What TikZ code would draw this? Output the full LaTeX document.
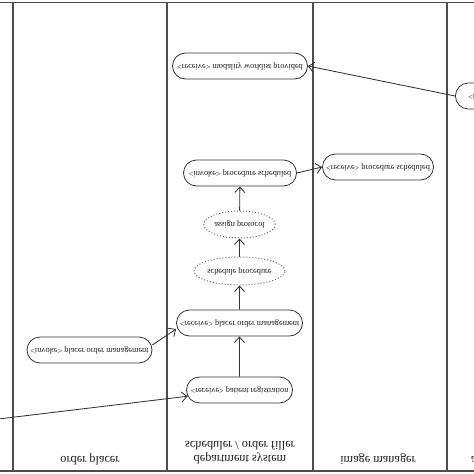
\documentclass[tikz,border=0pt]{standalone}
\usepackage{graphicx}
\usepackage{fontspec}
\setmainfont{Liberation Serif}
\usetikzlibrary{arrows.meta,shapes.misc,shapes.geometric}
\newcommand{\flipv}[1]{\scalebox{1}[-1]{#1}}
\begin{document}
\begin{tikzpicture}[x=1pt,y=-1pt,
  lane/.style={draw=black!70, line width=1.1pt},
  act/.style={rounded rectangle, draw=black!80, line width=0.8pt, text=black!90,
    font=\fontsize{8.3}{9}\selectfont, inner sep=0pt, minimum height=26pt},
  sub/.style={ellipse, draw=black!60, dotted, line width=1pt, text=black!90,
    font=\fontsize{8.3}{9}\selectfont, inner sep=0pt},
  flow/.style={draw=black!80, line width=0.85pt, -{Straight Barb[length=5.5pt,width=10pt]}},
  hdr/.style={font=\fontsize{12.3}{13}\selectfont, text=black!90, inner sep=0pt}]
\useasboundingbox (0,0) rectangle (474,474);
\clip (0,0) rectangle (474,474);
% swimlanes
\draw[lane] (0,2.5) -- (474,2.5);
\draw[lane] (0,471) -- (474,471);
\draw[lane] (13,2.5) -- (13,471);
\draw[lane] (167,2.5) -- (167,471);
\draw[lane] (313,2.5) -- (313,471);
\draw[lane] (447,2.5) -- (447,471);
% headers
\node[hdr] (h1) at (90,459) {\flipv{order placer}};
\node[hdr, align=center] (h2) at (240,451) {\flipv{\begin{tabular}{@{}c@{}}department system\\[1.5pt]scheduler / order filler\end{tabular}}};
\node[hdr] (h3) at (378,459) {\flipv{image manager}};
\node[hdr, anchor=west] (h4) at (471,459) {\flipv{acquisition modality}};
% activities
\node[act, minimum width=135pt] (mwl) at (240,66) {\flipv{<receive> modality worklist provided}};
\node[act, minimum width=111pt] (rps) at (378,167) {\flipv{<receive> procedure scheduled}};
\node[act, minimum width=113pt] (ips) at (240,173) {\flipv{<invoke> procedure scheduled}};
\node[sub, minimum width=61pt, minimum height=27pt] (ap) at (239.5,224.5) {\flipv{assign protocol}};
\node[sub, minimum width=76pt, minimum height=28pt] (sp) at (239.5,271) {\flipv{schedule procedure}};
\node[act, minimum width=126pt] (rpo) at (239.5,323) {\flipv{<receive> placer order management}};
\node[act, minimum width=125pt] (ipo) at (89.5,350) {\flipv{<invoke> placer order management}};
\node[act, minimum width=106pt] (reg) at (239.5,390) {\flipv{<receive> patient registration}};
\node[act, minimum width=150pt, anchor=west] (inv) at (455,96) {\flipv{<invoke> modality worklist provided}};
\coordinate (src) at (-10,420);
% flows
\draw[flow] (src) -- (reg);
\draw[flow] (reg) -- (rpo);
\draw[flow] ([yshift=5pt]ipo.east) -- ([yshift=-6pt]rpo.west);
\draw[flow] (rpo) -- (sp);
\draw[flow] (sp) -- (ap);
\draw[flow] (ap) -- (ips);
\draw[flow] (ips.east) -- (rps.west);
\draw[flow] (inv.west) -- (mwl.east);
\end{tikzpicture}
\end{document}
